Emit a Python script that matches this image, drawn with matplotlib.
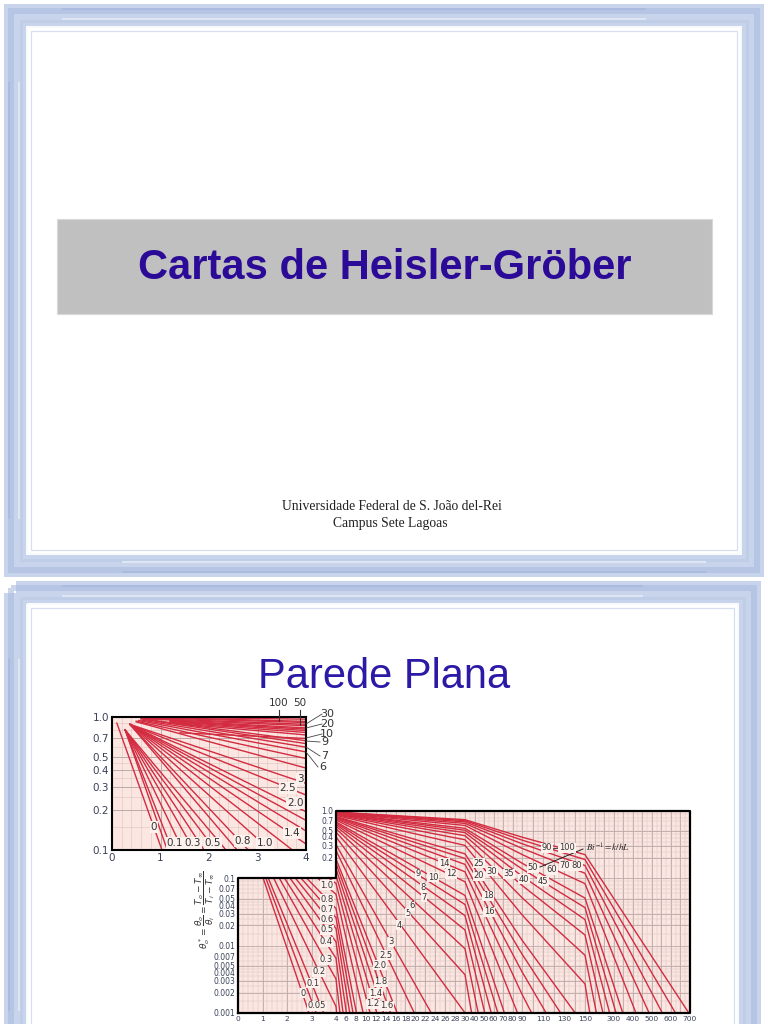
import matplotlib
matplotlib.use("Agg")
import matplotlib.pyplot as plt
import numpy as np
from matplotlib.patches import Rectangle
from matplotlib.ticker import NullLocator

# ---- values (Fo, theta_o*) ----
big_labels = ["0", "0.05", "0.1", "0.2", "0.3", "0.4", "0.5", "0.6", "0.7", "0.8",
              "1.0", "1.2", "1.4", "1.6", "1.8", "2.0", "2.5", "3", "4", "5", "6",
              "7", "8", "9", "10", "12", "14", "16", "18", "20", "25", "30", "35",
              "40", "45", "50", "60", "70", "80", "90", "100"]
big_fo = [
    [1.03, 2.90], [1.14, 3.19], [1.24, 3.50],
    [1.46, 4, 4.13], [1.69, 4, 4.79], [1.90, 4, 5.43], [2.13, 4, 6.10],
    [2.35, 4, 6.77], [2.58, 4, 7.44], [2.81, 4, 8.12], [3.26, 4, 9.49],
    [3.72, 4, 10.86],
    [4, 12.23], [4, 13.6], [4, 14.98], [4, 16.34], [4, 19.79], [4, 23.2], [4, 30.1],
    [4, 30, 37.0], [4, 30, 43.9], [4, 30, 50.8], [4, 30, 57.7], [4, 30, 64.6],
    [4, 30, 71.5], [4, 30, 85.3],
    [4, 30, 90, 99.2], [4, 30, 90, 113], [4, 30, 90, 126.8], [4, 30, 90, 140.7],
    [4, 30, 90, 150, 175], [4, 30, 90, 150, 210], [4, 30, 90, 150, 244],
    [4, 30, 90, 150, 279], [4, 30, 90, 150, 313], [4, 30, 90, 150, 348],
    [4, 30, 90, 150, 417], [4, 30, 90, 150, 486], [4, 30, 90, 150, 555],
    [4, 30, 90, 150, 624], [4, 30, 90, 150, 694],
]
big_theta = [
    [0.1, 0.001], [0.1, 0.001], [0.1, 0.001],
    [0.1, 0.00125, 0.001], [0.1, 0.0032, 0.001], [0.1, 0.0065, 0.001],
    [0.1, 0.0114, 0.001], [0.1, 0.018, 0.001], [0.1, 0.026, 0.001],
    [0.1, 0.0356, 0.001], [0.1, 0.058, 0.001], [0.1, 0.084, 0.001],
    [0.111, 0.001], [0.139, 0.001], [0.167, 0.001], [0.194, 0.001],
    [0.259, 0.001], [0.317, 0.001], [0.413, 0.001],
    [0.487, 0.0037, 0.001], [0.546, 0.009, 0.001], [0.593, 0.0171, 0.001],
    [0.631, 0.0279, 0.001], [0.663, 0.0409, 0.001], [0.690, 0.0557, 0.001],
    [0.733, 0.089, 0.001],
    [0.765, 0.125, 0.0019, 0.001], [0.791, 0.161, 0.0041, 0.001],
    [0.811, 0.197, 0.0075, 0.001], [0.828, 0.231, 0.0121, 0.001],
    [0.860, 0.308, 0.0288, 0.0027, 0.001], [0.881, 0.374, 0.0517, 0.0072, 0.001],
    [0.897, 0.430, 0.0787, 0.0144, 0.001], [0.909, 0.477, 0.108, 0.0244, 0.001],
    [0.919, 0.518, 0.138, 0.0367, 0.001], [0.927, 0.553, 0.168, 0.0509, 0.001],
    [0.939, 0.610, 0.226, 0.0834, 0.001], [0.947, 0.654, 0.279, 0.119, 0.001],
    [0.953, 0.690, 0.327, 0.155, 0.001], [0.958, 0.719, 0.370, 0.190, 0.001],
    [0.963, 0.743, 0.409, 0.225, 0.001],
]

inset_fo = [
    [0.1, 1.03],
    [0.27, 1.14], [0.27, 1.24], [0.27, 1.46], [0.27, 1.69], [0.27, 1.90],
    [0.27, 2.13], [0.27, 2.35],
    [0.37, 2.58], [0.37, 2.81], [0.37, 3.26], [0.37, 3.72], [0.37, 4], [0.37, 4],
    [0.37, 4], [0.37, 4], [0.37, 4], [0.37, 4],
    [0.5, 4], [0.5, 4], [0.55, 4], [0.6, 4], [0.65, 4], [0.7, 4],
    [1.4, 4], [1.2, 4], [1.2, 4], [1.2, 4], [1.2, 4], [1.2, 4],
    [0.6, 4], [0.6, 4], [0.6, 4], [0.6, 4], [0.6, 4],
]
inset_theta = [
    [0.90, 0.1],
    [0.80, 0.1], [0.80, 0.1], [0.80, 0.1], [0.80, 0.1], [0.80, 0.1],
    [0.80, 0.1], [0.80, 0.1],
    [0.88, 0.1], [0.88, 0.1], [0.88, 0.1], [0.88, 0.1], [0.88, 0.111], [0.88, 0.139],
    [0.88, 0.167], [0.88, 0.194], [0.88, 0.259], [0.88, 0.317],
    [0.92, 0.413], [0.93, 0.487], [0.94, 0.546], [0.95, 0.593], [0.96, 0.631], [0.96, 0.663],
    [0.76, 0.690], [0.90, 0.733], [0.91, 0.765], [0.92, 0.791], [0.93, 0.811], [0.94, 0.828],
    [0.97, 0.860], [0.98, 0.881], [0.99, 0.909], [1.0, 0.927], [1.0, 0.963],
]

big_xticks = [0, 1, 2, 3, 4, 6, 8, 10, 12, 14, 16, 18, 20, 22, 24, 26, 28, 30,
              40, 50, 60, 70, 80, 90, 110, 130, 150, 300, 400, 500, 600, 700]
big_yticks_low = [0.1, 0.07, 0.05, 0.04, 0.03, 0.02, 0.01, 0.007, 0.005, 0.004,
                  0.003, 0.002, 0.001]
big_yticks_up = [1.0, 0.7, 0.5, 0.4, 0.3, 0.2]
inset_xticks = [0, 1, 2, 3, 4]
inset_yticks = [0.1, 0.2, 0.3, 0.4, 0.5, 0.7, 1.0]

RED = "#d32b40"
PINK = "#fbe6e1"
GRID_MINOR = "#dcc5c2"
GRID_MAJOR = "#bcaaa9"
TICK_COL = "#3a4258"

fig = plt.figure(figsize=(7.68, 10.24), dpi=100)
fig.patch.set_facecolor("white")


def px_axes(l, t, r, b, z):
    a = fig.add_axes([l / 768, 1 - b / 1024, (r - l) / 768, (b - t) / 1024])
    a.set_zorder(z)
    return a


# ---- slide background layer (pixel coordinates) ----
bg = px_axes(0, 0, 768, 1024, 0)
bg.set_xlim(0, 768)
bg.set_ylim(1024, 0)
bg.axis("off")


def brush_frame(ax, x0, y0, x1, y1):
    # ins = distance of the stroke centre from the outer edge, w = width in px
    layers = [(13, 24, "#c8d4eb", 1.0), (8, 6, "#a9bbde", 0.6),
              (18, 3, "#bccbe6", 0.7), (24, 2, "#ffffff", 0.9),
              (28, 1.2, "#d6dff0", 1.0)]
    for ins, w, col, a in layers:
        ax.add_patch(Rectangle((x0 + ins, y0 + ins), x1 - x0 - 2 * ins, y1 - y0 - 2 * ins,
                               fill=False, ec=col, lw=w * 0.72, alpha=a, joinstyle="miter"))
    # a few brush streaks
    for dy, col, a in [(6, "#9fb3da", 0.5), (16, "#e2e9f5", 0.9)]:
        ax.plot([x0 + 60, x1 - 120], [y0 + dy, y0 + dy], color=col, lw=1.5, alpha=a)
        ax.plot([x0 + 120, x1 - 60], [y1 - dy, y1 - dy], color=col, lw=1.5, alpha=a)
        ax.plot([x0 + dy, x0 + dy], [y0 + 80, y1 - 60], color=col, lw=1.5, alpha=a)


brush_frame(bg, 3, 3, 765, 578)
brush_frame(bg, 3, 580, 762, 1070)

bg.add_patch(Rectangle((57, 219), 655, 95, fc="#c0c0c0", ec="#d8d8d8", lw=0.8))
bg.text(385, 268, "Cartas de Heisler-Gröber", ha="center", va="center",
        fontsize=30, fontweight="bold", family="Liberation Sans", color="#2a0a96")
bg.text(392, 507, "Universidade Federal de S. João del-Rei", ha="center", va="center",
        fontsize=9.8, family="Liberation Serif", color="#222222")
bg.text(390, 523, "Campus Sete Lagoas", ha="center", va="center",
        fontsize=9.8, family="Liberation Serif", color="#222222")
bg.text(384, 677, "Parede Plana", ha="center", va="center",
        fontsize=30, family="Liberation Sans", color="#2b1aa6")

# ---- big chart ----
fo_brk = [0, 4, 30, 90, 150, 700]
px_brk = [0, 98, 227, 284, 347, 452]


def fwd(x):
    return np.interp(x, fo_brk, px_brk)


def inv(p):
    return np.interp(p, px_brk, fo_brk)


ax = px_axes(238, 811, 690, 1013, 1)
ax.set_facecolor(PINK)
ax.set_xscale("function", functions=(fwd, inv))
ax.set_yscale("log")
ax.set_xlim(0, 700)
ax.set_ylim(0.001, 1.0)

vmin = np.concatenate([np.arange(0, 4, 0.2), np.arange(4, 30, 1), np.arange(30, 90, 5),
                       np.arange(90, 150, 5), np.arange(150, 700, 25)])
vmaj = np.concatenate([np.arange(0, 5, 1), np.arange(4, 30, 2), np.arange(30, 150, 10),
                       np.arange(150, 701, 50)])
hmin = np.concatenate([np.array([1.5, 2, 2.5, 3, 3.5, 4, 4.5, 5, 6, 7, 8, 9]) * 10.0 ** k
                       for k in (-3, -2, -1)])
hmaj = np.array([0.001, 0.002, 0.003, 0.005, 0.01, 0.02, 0.03, 0.05, 0.1, 0.2, 0.3, 0.5])
ax.vlines(vmin, 0.001, 1, color=GRID_MINOR, lw=0.35, zorder=1)
ax.vlines(vmaj, 0.001, 1, color=GRID_MAJOR, lw=0.6, zorder=1)
ax.hlines(hmin, 0, 700, color=GRID_MINOR, lw=0.35, zorder=1)
ax.hlines(hmaj, 0, 700, color=GRID_MAJOR, lw=0.6, zorder=1)
ax.add_patch(Rectangle((0, 0.1), 4, 0.95, fc="white", ec="none", zorder=1.5))

for f, t in zip(big_fo, big_theta):
    ax.plot(f, t, color=RED, lw=1.0, zorder=2, solid_joinstyle="round")

ax.plot([0, 0, 4, 4, 700, 700, 0], [0.001, 0.1, 0.1, 1, 1, 0.001, 0.001],
        color="black", lw=1.6, clip_on=False, zorder=4)
for s in ax.spines.values():
    s.set_visible(False)
ax.set_xticks(big_xticks)
ax.set_xticklabels([str(v) for v in big_xticks])
ax.xaxis.set_minor_locator(NullLocator())
ax.set_yticks(big_yticks_low)
ax.set_yticklabels([f"{v:g}" for v in big_yticks_low])
ax.yaxis.set_minor_locator(NullLocator())
ax.tick_params(axis="x", length=0, pad=2, labelsize=5.4, labelcolor=TICK_COL)
ax.tick_params(axis="y", length=0, pad=2, labelsize=5.5, labelcolor=TICK_COL)
for v in big_yticks_up:
    ax.annotate(f"{v:.1f}", xy=(4, v), xytext=(-2, 0), textcoords="offset points",
                ha="right", va="center", fontsize=5.5, color=TICK_COL, annotation_clip=False)

# ---- inset chart ----
ins = px_axes(112, 717, 306, 850, 2)
ins.set_facecolor(PINK)
ins.set_yscale("log")
ins.set_xlim(0, 4)
ins.set_ylim(0.1, 1.0)
ins.vlines(np.arange(0.2, 4, 0.2), 0.1, 1, color=GRID_MINOR, lw=0.4, zorder=1)
ins.vlines([1, 2, 3], 0.1, 1, color=GRID_MAJOR, lw=0.7, zorder=1)
ins.hlines([0.15, 0.25, 0.35, 0.45, 0.6, 0.8, 0.9], 0, 4, color=GRID_MINOR, lw=0.4, zorder=1)
ins.hlines([0.2, 0.3, 0.4, 0.5, 0.7], 0, 4, color=GRID_MAJOR, lw=0.7, zorder=1)
for f, t in zip(inset_fo, inset_theta):
    ins.plot(f, t, color=RED, lw=1.0, zorder=2)
for s in ins.spines.values():
    s.set_linewidth(1.5)
ins.set_xticks(inset_xticks)
ins.set_xticklabels([str(v) for v in inset_xticks])
ins.set_yticks(inset_yticks)
ins.set_yticklabels([f"{v:.1f}" for v in inset_yticks])
ins.yaxis.set_minor_locator(NullLocator())
ins.tick_params(length=0, pad=2, labelsize=7.5, labelcolor=TICK_COL)

# ---- curve labels and leaders (pixel layout) ----
ov = px_axes(0, 0, 768, 1024, 3)
ov.set_xlim(0, 768)
ov.set_ylim(1024, 0)
ov.axis("off")

box = dict(boxstyle="square,pad=0.08", fc="#fdf1ee", ec="none")
big_text = [("1.0", 327, 885), ("0.8", 327, 899), ("0.7", 327, 909), ("0.6", 327, 919),
            ("0.5", 327, 930), ("0.4", 326, 942), ("0.3", 326, 960), ("0.2", 319, 972),
            ("0.1", 313, 983), ("0", 303, 993), ("0.05", 317, 1006),
            ("1.2", 373, 1004), ("1.6", 387, 1006), ("1.4", 376, 993), ("1.8", 381, 982),
            ("2.0", 380, 965), ("2.5", 386, 955), ("3", 391, 942), ("4", 399, 925),
            ("5", 408, 913), ("6", 412, 906), ("7", 424, 897), ("8", 423, 888),
            ("9", 418, 874), ("10", 433, 877), ("12", 451, 874), ("14", 444, 863),
            ("25", 479, 863), ("20", 479, 876), ("30", 492, 871), ("35", 509, 874),
            ("40", 524, 879), ("45", 543, 881), ("18", 488, 896), ("16", 489, 912),
            ("50", 533, 868), ("60", 552, 870), ("70", 565, 866), ("80", 577, 866),
            ("90", 547, 848), ("100", 567, 848)]
for s, x, y in big_text:
    ov.text(x, y, s, ha="center", va="center", fontsize=6, color="#333333", bbox=box)
ov.plot([540, 583], [867, 849], color="#222222", lw=0.7)
ov.plot([553, 559], [848, 848], color="#333333", lw=0.6)
ov.text(586, 848, r"$Bi^{-1} = k/hL$", ha="left", va="center", fontsize=6.5,
        color="#222222", math_fontfamily="stix")

inset_text = [("0", 154, 827), ("0.1", 175, 843), ("0.3", 193, 843), ("0.5", 213, 843),
              ("0.8", 243, 841), ("1.0", 265, 843), ("1.4", 292, 833), ("2.0", 295, 803),
              ("2.5", 288, 788), ("3", 300, 779)]
for s, x, y in inset_text:
    ov.text(x, y, s, ha="center", va="center", fontsize=7.5, color="#333333", bbox=box)

side_text = [("30", 327, 714, 724), ("20", 327, 724, 728), ("10", 327, 734, 738),
             ("9", 325, 742, 741), ("7", 325, 756, 747), ("6", 323, 767, 752)]
for s, x, y, yc in side_text:
    ov.plot([306, x - 5], [yc, y], color="#444444", lw=0.6)
    ov.text(x, y, s, ha="center", va="center", fontsize=8, color="#333333")
for s, x, yc in [("100", 279, 721), ("50", 300, 725)]:
    ov.plot([x, x], [710, yc], color="#333333", lw=0.8)
    ov.text(x, 703, s, ha="center", va="center", fontsize=7.5, color="#333333")

ov.text(205, 910, r"$\theta_o^* = \dfrac{\theta_o}{\theta_i} = \dfrac{T_o - T_\infty}{T_i - T_\infty}$",
        rotation=90, ha="center", va="center", fontsize=6.5, color="#333333")

fig.savefig("out.png", dpi=100)
